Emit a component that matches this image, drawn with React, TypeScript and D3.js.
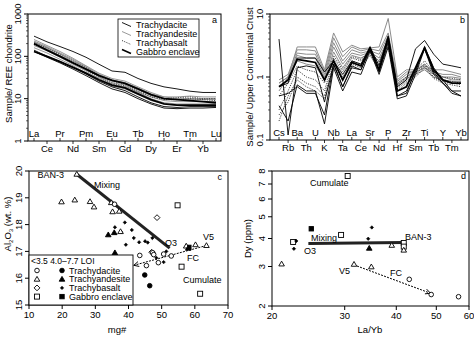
import React from "react";
import * as d3 from "d3";

// ---------- Panel a: REE ----------
const reeElements = ["La","Ce","Pr","Nd","Pm","Sm","Eu","Gd","Tb","Dy","Ho","Er","Tm","Yb","Lu"];
const reeTrachydacite = [
  [300,220,170,130,95,65,45,42,30,23,19,17,15,14,14],
  [130,95,70,50,35,24,17,14,10,7.5,6,5.8,6,6,6.2],
  [140,100,75,55,38,26,19,15.5,11,8,6.5,6.2,6.5,6.5,6.5],
];
const reeTrachyandesite = [
  [250,180,130,90,60,40,30,26,19,14,11,10,10,10,10],
  [220,160,115,80,55,36,27,23,17,12,10,9.5,9.5,9.5,9.5],
  [200,150,105,72,50,33,24,21,15,11,9,8.5,8.5,8.5,8.5],
  [180,135,95,65,45,30,22,19,14,10,8,7.5,7.5,7.5,7.5],
  [160,120,85,60,40,27,20,17,12.5,9,7.5,7,7,7,7],
  [230,170,120,85,58,38,28,24,18,13,11,11,11.5,11,11],
];
const reeTrachybasalt = [
  [210,160,110,78,54,36,26,22,16,12,10,10.5,11,10,10],
  [190,140,100,70,48,32,23,20,14.5,11,9.5,9.5,10,9.5,9],
];
const reeGabbro = [
  [200,140,100,70,50,35,27,23,17,12.5,10,9.5,9,8.5,8],
  [130,100,75,55,40,28,21,18,13,9.5,7.5,7,7,7,7],
];
const reeLegend = ["Trachydacite","Trachyandesite","Trachybasalt","Gabbro enclave"];

// ---------- Panel b: spider ----------
const spiderElements = ["Cs","Rb","Ba","Th","U","K","Nb","Ta","La","Ce","Sr","Nd","P","Hf","Zr","Sm","Ti","Tb","Y","Tm","Yb"];
const spiderTrachydacite = [
  [4.0,0.12,1.4,1.5,1.4,0.4,1.6,0.7,1.5,1.3,2.8,1.2,3.5,0.5,0.6,1.2,3.0,1.4,0.9,0.6,0.5],
  [0.35,0.2,0.75,0.6,0.6,0.18,1.4,0.6,1.2,1.1,2.6,1.1,3.0,0.45,0.5,1.1,2.8,1.1,0.8,0.6,0.6],
  [0.5,0.55,0.7,0.55,0.55,0.25,1.6,0.7,1.4,1.3,2.8,1.3,4.0,0.5,0.55,1.3,2.9,1.2,0.8,0.55,0.5],
  [0.7,0.8,2.0,2.0,2.0,1.2,1.8,1.1,1.8,1.6,3.0,1.5,4.5,0.7,0.9,2.8,3.8,2.3,1.6,1.5,1.4],
];
const spiderGabbro = [
  [0.7,0.9,1.9,1.8,1.7,0.9,1.8,0.9,1.7,1.5,2.9,1.3,4.2,0.6,0.7,1.4,2.9,1.3,0.9,0.8,0.8],
];
const spiderTrachyandesite = [
  [0.8,1.0,3.0,3.0,3.0,1.3,5.0,2.5,3.2,2.8,2.9,3.0,8.5,1.0,1.3,1.3,1.5,1.3,1.3,1.2,1.1],
  [0.9,1.1,2.7,2.7,2.6,1.2,4.2,2.1,3.0,2.6,2.8,2.6,5.0,0.9,1.2,1.2,1.4,1.2,1.1,1.1,1.0],
  [0.8,1.0,2.4,2.3,2.3,1.1,3.5,1.8,2.7,2.4,2.6,2.3,4.5,0.85,1.1,1.3,1.6,1.2,1.0,1.0,0.95],
  [0.7,0.9,2.2,2.0,2.0,1.0,3.0,1.6,2.4,2.2,2.5,2.0,4.0,0.8,1.0,1.2,1.4,1.1,1.0,0.9,0.9],
  [0.6,1.0,1.8,1.6,1.5,0.9,2.5,1.4,2.2,2.0,2.4,1.8,3.5,0.75,0.95,1.1,1.3,1.0,0.9,0.85,0.85],
];
const spiderTrachybasalt = [
  [0.3,0.6,1.3,1.0,0.9,0.6,2.0,1.2,2.0,1.8,2.5,1.6,3.8,0.7,0.9,1.2,1.6,1.1,0.9,0.85,0.8],
  [0.25,0.4,1.0,0.8,0.7,0.5,1.7,1.0,1.8,1.6,2.3,1.4,3.2,0.65,0.85,1.1,1.5,1.0,0.85,0.8,0.75],
  [0.5,0.8,1.5,1.3,1.2,0.8,2.2,1.3,2.1,1.9,2.6,1.7,4.0,0.75,1.0,1.3,1.8,1.2,1.0,0.95,0.9],
  [0.2,0.5,0.9,0.7,0.6,0.45,1.5,0.9,1.6,1.4,2.2,1.3,3.0,0.6,0.8,1.0,1.4,0.95,0.8,0.75,0.7],
];

// ---------- Panel c: Al2O3 vs mg# ----------
const cTrachydaciteOpen = [[35.8,18.76],[43.4,16.85],[45.4,16.47],[47.3,16.95],[47.6,16.88],[49.0,16.58],[50.6,16.9],[52.9,16.83]];
const cTrachydaciteFilled = [[44.9,16.12],[46.4,15.72]];
const cTrachyandesiteOpen = [[19.8,18.85],[23.8,18.92],[28.4,18.86],[29.6,18.66],[34.8,18.82],[35.2,18.48],[37.2,18.5],[37.6,17.74],[24.4,19.88],[57.4,17.2],[60.2,17.25],[63.5,17.22]];
const cTrachyandesiteFilled = [[33.9,17.62],[35.7,17.7],[35.9,16.95],[58.0,17.12]];
const cTrachybasaltOpen = [[48.6,18.26],[47.0,16.97]];
const cTrachybasaltFilled = [[38.9,18.08],[35.9,17.9],[37.8,17.72],[41.0,17.8],[39.2,17.25],[41.6,17.5],[43.2,17.34],[45.0,17.38],[45.8,17.33],[47.2,17.5],[48.4,16.76],[50.6,16.6],[51.4,17.0]];
const cGabbroOpen = [[54.8,18.72],[56.0,16.43],[61.6,15.42]];
const cGabbroFilled = [[58.2,17.15]];
const cMixing = [[24.4,19.88],[52.4,17.12]];
const cFC = [[63.5,17.22],[41.6,16.48]];
const cXTicks = [10,20,30,40,50,60,70];
const cYTicks = [15,16,17,18,19,20];

// ---------- Panel d: Dy vs La/Yb ----------
const dTrachydaciteOpen = [[43.0,2.63],[48.6,2.25],[56.6,2.2]];
const dTrachyandesiteOpen = [[21.1,3.08],[39.0,3.73],[41.7,3.55],[31.6,3.07],[34.8,2.99]];
const dTrachyandesiteFilled = [[34.4,3.62]];
const dTrachybasaltFilled = [[22.9,3.9],[22.6,3.6],[34.2,3.99],[34.9,4.48]];
const dGabbroOpen = [[30.5,7.6],[22.5,3.86],[29.4,4.15],[41.7,3.82],[41.7,3.68]];
const dGabbroFilled = [[24.9,4.42]];
const dMixing = [[24.5,3.8],[41.7,3.84]];
const dFC = [[31.6,3.05],[48.4,2.28]];
const dXTicks = [20,30,40,50,60];
const dYTicks = [2,3,4,5,6,7,8];

const FONT = "Liberation Sans, Arial, sans-serif";
const GRAY = "#8c8c8c";
const FS = 9.5;
const FA = 9;

function logMinor(lo: number, hi: number) {
  const out: number[] = [];
  for (let d = lo; d < hi; d *= 10) for (let k = 2; k <= 9; k++) out.push(d * k);
  return out;
}

function Frame({ x0, x1, y0, y1 }: any) {
  return <rect x={x0} y={y0} width={x1 - x0} height={y1 - y0} fill="none" stroke="#000" strokeWidth={1} />;
}

function Marker({ type, filled, x, y }: any) {
  const fill = filled ? "#000" : "#fff";
  const sw = 0.9;
  if (type === "circle") return <circle cx={x} cy={y} r={2.3} fill={fill} stroke="#000" strokeWidth={sw} />;
  if (type === "triangle") return <path d={`M${x},${y - 2.8}L${x + 2.8},${y + 2}L${x - 2.8},${y + 2}Z`} fill={fill} stroke="#000" strokeWidth={sw} />;
  if (type === "diamond") {
    if (filled) return <path d={`M${x},${y - 1.7}L${x + 1.7},${y}L${x},${y + 1.7}L${x - 1.7},${y}Z`} fill="#000" stroke="#000" strokeWidth={0.6} />;
    return <path d={`M${x},${y - 2.9}L${x + 2.9},${y}L${x},${y + 2.9}L${x - 2.9},${y}Z`} fill="#fff" stroke="#000" strokeWidth={sw} />;
  }
  const s = filled ? 2.2 : 2.5;
  return <rect x={x - s} y={y - s} width={2 * s} height={2 * s} fill={fill} stroke="#000" strokeWidth={sw} />;
}

function PanelA() {
  const x0 = 28, x1 = 221, y0 = 14, y1 = 141;
  const x = d3.scaleLinear().domain([0, 14]).range([34, 216]);
  const y = d3.scaleLog().domain([1, 1000]).range([y1, y0]);
  const line = d3.line<number>().x((_, i) => x(i)).y((v) => y(v));
  const majors = [1, 10, 100, 1000];
  return (
    <g>
      {reeTrachyandesite.map((s, i) => <path key={"ta" + i} d={line(s)!} fill="none" stroke={GRAY} strokeWidth={0.9} />)}
      {reeTrachybasalt.map((s, i) => <path key={"tb" + i} d={line(s)!} fill="none" stroke="#333" strokeWidth={0.9} strokeDasharray="1.2,1.2" />)}
      {reeTrachydacite.map((s, i) => <path key={"td" + i} d={line(s)!} fill="none" stroke="#000" strokeWidth={0.9} />)}
      {reeGabbro.map((s, i) => <path key={"g" + i} d={line(s)!} fill="none" stroke="#000" strokeWidth={1.8} />)}
      <Frame x0={x0} x1={x1} y0={y0} y1={y1} />
      {logMinor(1, 1000).map((v) => <line key={"m" + v} x1={x0 - 2} x2={x0} y1={y(v)} y2={y(v)} stroke="#000" strokeWidth={0.6} />)}
      {majors.map((v) => (
        <g key={v}>
          <line x1={x0 - 4} x2={x0} y1={y(v)} y2={y(v)} stroke="#000" />
          <text transform={`translate(${x0 - 7},${y(v)}) rotate(-90)`} textAnchor="middle" fontSize={FS} fontFamily={FONT}>{v}</text>
        </g>
      ))}
      {reeElements.map((e, i) => (
        <g key={e}>
          <line x1={x(i)} x2={x(i)} y1={i % 2 === 0 ? y1 - 3 : y1} y2={i % 2 === 0 ? y1 : y1 + 3} stroke="#000" strokeWidth={0.8} />
          <text x={x(i)} y={i % 2 === 0 ? y1 - 4 : y1 + 11} textAnchor="middle" fontSize={FS} fontFamily={FONT}>{e}</text>
        </g>
      ))}
      <text transform={`translate(12,${(y0 + y1) / 2 - 4}) rotate(-90)`} textAnchor="middle" fontSize={FS} fontFamily={FONT}>Sample/ REE chondrite</text>
      <text x={217} y={23} textAnchor="end" fontSize={FA} fontFamily={FONT}>a</text>
      <rect x={118} y={19} width={81} height={38} fill="#fff" stroke="#000" strokeWidth={0.8} />
      {reeLegend.map((t, i) => {
        const yy = 24.5 + i * 9;
        const style: any = i === 0 ? { stroke: "#000", sw: 0.9 } : i === 1 ? { stroke: GRAY, sw: 0.9 } : i === 2 ? { stroke: "#333", sw: 0.9, dash: "1.2,1.2" } : { stroke: "#000", sw: 1.6 };
        return (
          <g key={t}>
            <line x1={122} x2={131} y1={yy - 2} y2={yy + 2} stroke={style.stroke} strokeWidth={style.sw} strokeDasharray={style.dash} />
            <text x={136} y={yy + 3.2} fontSize={FA} fontFamily={FONT}>{t}</text>
          </g>
        );
      })}
    </g>
  );
}

function PanelB() {
  const x0 = 270, x1 = 468, y0 = 14, y1 = 140;
  const x = d3.scaleLinear().domain([0, 20]).range([279, 461]);
  const y = d3.scaleLog().domain([0.1, 10]).range([y1, y0]);
  const line = d3.line<number>().x((_, i) => x(i)).y((v) => y(v));
  const majors = [0.1, 1, 10];
  return (
    <g>
      {spiderTrachyandesite.map((s, i) => <path key={"ta" + i} d={line(s)!} fill="none" stroke={GRAY} strokeWidth={1} />)}
      {spiderTrachybasalt.map((s, i) => <path key={"tb" + i} d={line(s)!} fill="none" stroke="#333" strokeWidth={0.9} strokeDasharray="1.2,1.2" />)}
      {spiderTrachydacite.map((s, i) => <path key={"td" + i} d={line(s)!} fill="none" stroke="#000" strokeWidth={0.9} />)}
      {spiderGabbro.map((s, i) => <path key={"g" + i} d={line(s)!} fill="none" stroke="#000" strokeWidth={1.8} />)}
      <Frame x0={x0} x1={x1} y0={y0} y1={y1} />
      {logMinor(0.1, 10).map((v) => <line key={"m" + v} x1={x0 - 2} x2={x0} y1={y(v)} y2={y(v)} stroke="#000" strokeWidth={0.6} />)}
      {majors.map((v) => (
        <g key={v}>
          <line x1={x0 - 4} x2={x0} y1={y(v)} y2={y(v)} stroke="#000" />
          <text transform={`translate(${x0 - 7},${y(v)}) rotate(-90)`} textAnchor="middle" fontSize={FS} fontFamily={FONT}>{v}</text>
        </g>
      ))}
      {spiderElements.map((e, i) => (
        <g key={e + i}>
          <line x1={x(i)} x2={x(i)} y1={i % 2 === 0 ? y1 - 3 : y1} y2={i % 2 === 0 ? y1 : y1 + 3} stroke="#000" strokeWidth={0.8} />
          <text x={x(i)} y={i % 2 === 0 ? y1 - 4 : y1 + 11} textAnchor="middle" fontSize={FS} fontFamily={FONT}>{e}</text>
        </g>
      ))}
      <text transform={`translate(253,${(y0 + y1) / 2}) rotate(-90)`} textAnchor="middle" fontSize={FS} fontFamily={FONT}>Sample/ Upper Continental Crust</text>
      <text x={465} y={23} textAnchor="end" fontSize={FA} fontFamily={FONT}>b</text>
    </g>
  );
}

function Arrow({ x1, y1, x2, y2 }: any) {
  const a = Math.atan2(y2 - y1, x2 - x1);
  const L = 5, W = 2.5;
  const bx = x2 - L * Math.cos(a), by = y2 - L * Math.sin(a);
  const px = -Math.sin(a) * W, py = Math.cos(a) * W;
  return (
    <g>
      <line x1={x1} y1={y1} x2={x2} y2={y2} stroke="#000" strokeWidth={1} strokeDasharray="2,1.2" />
      <path d={`M${bx + px},${by + py}L${x2},${y2}L${bx - px},${by - py}`} fill="none" stroke="#000" strokeWidth={1} />
    </g>
  );
}

function PanelC() {
  const x0 = 29, x1 = 228, y0 = 171, y1 = 305;
  const x = d3.scaleLinear().domain([10, 70]).range([x0, x1]);
  const y = d3.scaleLinear().domain([15, 20]).range([y1, y0]);
  const pts = (arr: number[][], type: string, filled: boolean, k: string) =>
    arr.map((p, i) => <Marker key={k + i} type={type} filled={filled} x={x(p[0])} y={y(p[1])} />);
  const legendRows = ["Trachydacite", "Trachyandesite", "Trachybasalt", "Gabbro enclave"];
  const legendTypes = ["circle", "triangle", "diamond", "square"];
  return (
    <g>
      <Frame x0={x0} x1={x1} y0={y0} y1={y1} />
      {cXTicks.map((v) => (
        <g key={v}>
          <line x1={x(v)} x2={x(v)} y1={y1} y2={y1 + 4} stroke="#000" />
          <text x={x(v)} y={y1 + 13} textAnchor="middle" fontSize={FS} fontFamily={FONT}>{v}</text>
        </g>
      ))}
      {cYTicks.map((v) => (
        <g key={v}>
          <line x1={x0 - 4} x2={x0} y1={y(v)} y2={y(v)} stroke="#000" />
          <text transform={`translate(${x0 - 7},${y(v)}) rotate(-90)`} textAnchor="middle" fontSize={FS} fontFamily={FONT}>{v}</text>
        </g>
      ))}
      <text x={117} y={333} textAnchor="middle" fontSize={FS} fontFamily={FONT}>mg#</text>
      <text transform={`translate(11,${(y0 + y1) / 2 - 14}) rotate(-90)`} textAnchor="middle" fontSize={FS} fontFamily={FONT}>
        A<tspan>l</tspan><tspan fontSize={6} dy={2}>2</tspan><tspan dy={-2}>O</tspan><tspan fontSize={6} dy={2}>3</tspan><tspan dy={-2}> (wt. %)</tspan>
      </text>
      <line x1={x(cMixing[0][0])} y1={y(cMixing[0][1])} x2={x(cMixing[1][0])} y2={y(cMixing[1][1])} stroke="#222" strokeWidth={3} />
      <Arrow x1={x(cFC[0][0])} y1={y(cFC[0][1])} x2={x(cFC[1][0])} y2={y(cFC[1][1])} />
      {pts(cGabbroOpen, "square", false, "go")}
      {pts(cGabbroFilled, "square", true, "gf")}
      {pts(cTrachybasaltOpen, "diamond", false, "bo")}
      {pts(cTrachybasaltFilled, "diamond", true, "bf")}
      {pts(cTrachyandesiteOpen, "triangle", false, "ao")}
      {pts(cTrachyandesiteFilled, "triangle", true, "af")}
      {pts(cTrachydaciteOpen, "circle", false, "do")}
      {pts(cTrachydaciteFilled, "circle", true, "df")}
      <text x={64} y={178} textAnchor="end" fontSize={FA} fontFamily={FONT}>BAN-3</text>
      <text x={94} y={188} fontSize={FA} fontFamily={FONT}>Mixing</text>
      <text x={165} y={246} fontSize={FA} fontFamily={FONT}>O3</text>
      <text x={203} y={240} fontSize={FA} fontFamily={FONT}>V5</text>
      <text x={187} y={261} fontSize={FA} fontFamily={FONT}>FC</text>
      <text x={183} y={283} fontSize={FA} fontFamily={FONT}>Cumulate</text>
      <text x={222} y={180} textAnchor="end" fontSize={FA} fontFamily={FONT}>c</text>
      <rect x={x0} y={255} width={104} height={y1 - 255} fill="#fff" stroke="#000" strokeWidth={0.9} />
      <text x={31} y={263.5} fontSize={8.5} fontFamily={FONT}>{"<3.5  4.0–7.7 LOI"}</text>
      {legendRows.map((t, i) => {
        const yy = 270.5 + i * 8.7;
        return (
          <g key={t}>
            <Marker type={legendTypes[i]} filled={false} x={37} y={yy} />
            <Marker type={legendTypes[i]} filled={true} x={62} y={yy} />
            <text x={69} y={yy + 3.2} fontSize={FA} fontFamily={FONT}>{t}</text>
          </g>
        );
      })}
    </g>
  );
}

function PanelD() {
  const x0 = 272, x1 = 469, y0 = 171, y1 = 306;
  const x = d3.scaleLog().domain([20, 60]).range([x0, x1]);
  const y = d3.scaleLog().domain([2, 8]).range([y1, y0]);
  const pts = (arr: number[][], type: string, filled: boolean, k: string) =>
    arr.map((p, i) => <Marker key={k + i} type={type} filled={filled} x={x(p[0])} y={y(p[1])} />);
  return (
    <g>
      <Frame x0={x0} x1={x1} y0={y0} y1={y1} />
      {dXTicks.map((v) => (
        <g key={v}>
          <line x1={x(v)} x2={x(v)} y1={y1} y2={y1 + 4} stroke="#000" />
          <text x={x(v)} y={y1 + 13} textAnchor="middle" fontSize={FS} fontFamily={FONT}>{v}</text>
        </g>
      ))}
      {dYTicks.map((v) => (
        <g key={v}>
          <line x1={x0 - 4} x2={x0} y1={y(v)} y2={y(v)} stroke="#000" />
          <text transform={`translate(${x0 - 7},${y(v)}) rotate(-90)`} textAnchor="middle" fontSize={FS} fontFamily={FONT}>{v}</text>
        </g>
      ))}
      <text x={370} y={333} textAnchor="middle" fontSize={FS} fontFamily={FONT}>La/Yb</text>
      <text transform={`translate(251,${(y0 + y1) / 2}) rotate(-90)`} textAnchor="middle" fontSize={FS} fontFamily={FONT}>Dy (ppm)</text>
      <line x1={x(dMixing[0][0])} y1={y(dMixing[0][1])} x2={x(dMixing[1][0])} y2={y(dMixing[1][1])} stroke="#222" strokeWidth={3} />
      <Arrow x1={x(dFC[0][0])} y1={y(dFC[0][1])} x2={x(dFC[1][0])} y2={y(dFC[1][1])} />
      {pts(dGabbroOpen, "square", false, "go")}
      {pts(dGabbroFilled, "square", true, "gf")}
      {pts(dTrachybasaltFilled, "diamond", true, "bf")}
      {pts(dTrachyandesiteOpen, "triangle", false, "ao")}
      {pts(dTrachyandesiteFilled, "triangle", true, "af")}
      {pts(dTrachydaciteOpen, "circle", false, "do")}
      <text x={310} y={186} fontSize={FA} fontFamily={FONT}>Cumulate</text>
      <text x={311} y={241} fontSize={FA} fontFamily={FONT}>Mixing</text>
      <text x={304} y={254} fontSize={FA} fontFamily={FONT}>O3</text>
      <text x={405} y={240} fontSize={FA} fontFamily={FONT}>BAN-3</text>
      <text x={339} y={274} fontSize={FA} fontFamily={FONT}>V5</text>
      <text x={390} y={276} fontSize={FA} fontFamily={FONT}>FC</text>
      <text x={466} y={179} textAnchor="end" fontSize={FA} fontFamily={FONT}>d</text>
    </g>
  );
}

export default function App() {
  return (
    <svg width={474} height={337} style={{ position: "absolute", left: 0, top: 0, background: "#fff" }}>
      <rect width={474} height={337} fill="#fff" />
      <PanelA />
      <PanelB />
      <PanelC />
      <PanelD />
    </svg>
  );
}
